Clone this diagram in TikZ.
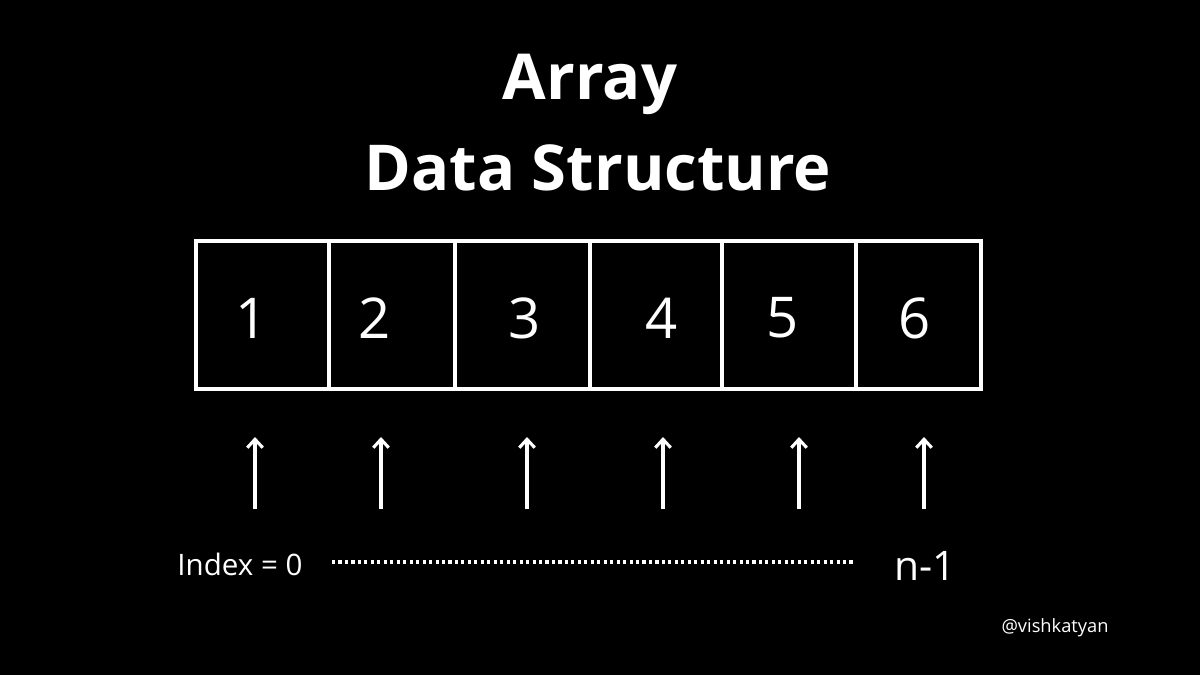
\documentclass[tikz,border=0pt]{standalone}
\usepackage{fontspec}
\setmainfont{Open Sans}
\usetikzlibrary{arrows.meta}
\begin{document}
\begin{tikzpicture}[x=0.025cm,y=-0.025cm]

% definitions
\tikzstyle{title} = [text=white, font=\fontsize{45}{54}\selectfont\bfseries]
\tikzstyle{cell} = [draw=white, line width=2.2pt, inner sep=0pt]
\tikzstyle{digit} = [text=white, font=\fontsize{40}{48}\selectfont]
\tikzstyle{arrow} = [-{Straight Barb[length=6pt,width=11pt]}, white, line width=2.2pt]

\fill[black] (0,0) rectangle (1200,675);

% the title
\node (t1) [title] at (590,84) {Array};
\node (t2) [title] at (598,168) {Data Structure};

% the cells
\foreach \l/\r/\c/\n [count=\i] in {196/329/252/1, 329/455/375/2, 455/590/525/3, 590/722/662/4, 722/856/783/5, 856/981/915/6}{
  \draw[cell] (\l,241) rectangle (\r,389);
  \node (d\i) [digit] at (\c,318) {\n};
}

% the arrows
\foreach \x [count=\i] in {255,381,527,663,799,924}{
  \coordinate (a\i) at (\x,509);
  \coordinate (b\i) at (\x,437);
  \draw[arrow] (a\i) -- (b\i);
}

% the index
\node (i0) [text=white, font=\fontsize{21}{25}\selectfont] at (240,564) {Index = 0};
\node (in) [text=white, font=\fontsize{29}{35}\selectfont] at (925,566) {n-1};
\coordinate (p0) at (332,562);
\coordinate (p1) at (853,562);
\draw[white, line width=2.2pt, dash pattern=on 2.2pt off 2.4pt] (p0) -- (p1);

\node (tag) [text=white, font=\fontsize{13}{16}\selectfont] at (1055,628) {@vishkatyan};

\end{tikzpicture}
\end{document}
